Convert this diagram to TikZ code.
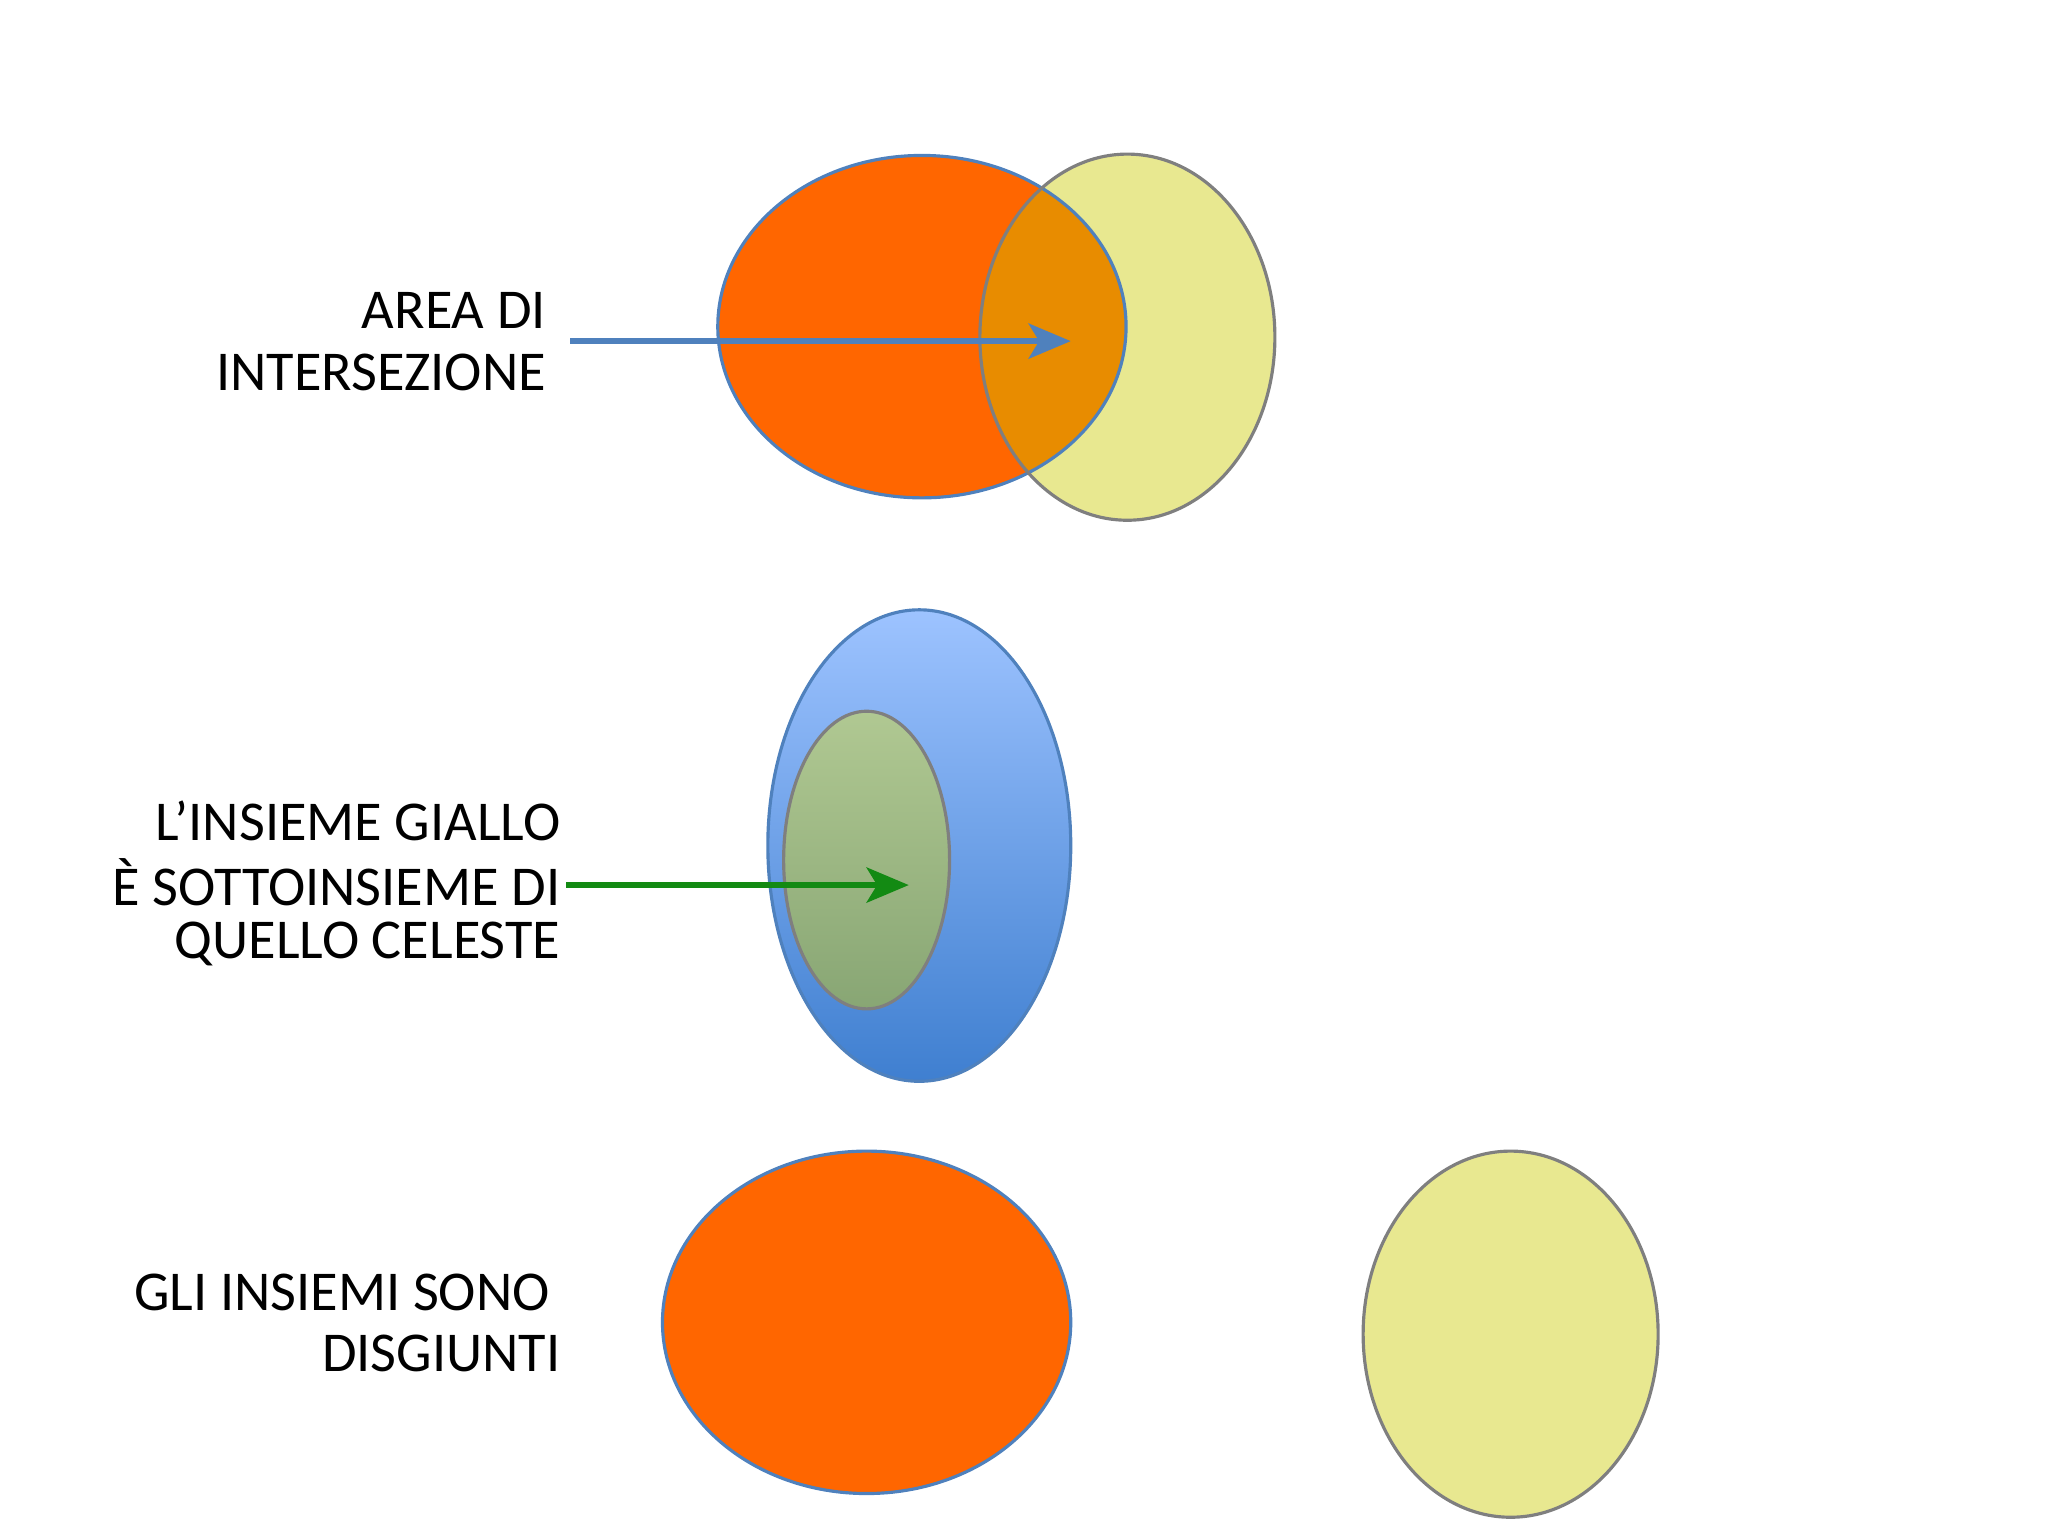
\documentclass[tikz,border=0pt]{standalone}
\usepackage{fontspec}
\setmainfont{Carlito}
\usetikzlibrary{arrows.meta}
\definecolor{orng}{HTML}{FF6600}
\definecolor{ylw}{HTML}{E8E890}
\definecolor{inter}{HTML}{E88C00}
\definecolor{bord}{HTML}{4F81BD}
\definecolor{gbord}{HTML}{7F7F7F}
\definecolor{arrb}{HTML}{4F81BD}
\definecolor{arrg}{HTML}{138A13}
\definecolor{bluetop}{HTML}{9DC3FF}
\definecolor{bluebot}{HTML}{3F7FD0}
\definecolor{grntop}{HTML}{B0C892}
\definecolor{grnbot}{HTML}{88A674}
\begin{document}
\begin{tikzpicture}[x=0.01317cm,y=-0.01317cm,
  lbl/.style={anchor=east,inner sep=0pt,font=\fontsize{16}{18}\selectfont},
  setline/.style={line width=0.9pt}]
\useasboundingbox (0,0) rectangle (1555,1166);
% top
\fill[orng] (700,248) ellipse [x radius=155,y radius=130];
\fill[ylw] (856,256) ellipse [x radius=112,y radius=139];
\begin{scope}
\clip (700,248) ellipse [x radius=155,y radius=130];
\fill[inter] (856,256) ellipse [x radius=112,y radius=139];
\end{scope}
\draw[setline,bord] (700,248) ellipse [x radius=155,y radius=130];
\draw[setline,gbord] (856,256) ellipse [x radius=112,y radius=139];
\node[lbl] (t1) at (415,236) {AREA DI};
\node[lbl] (t2) at (415,283) {INTERSEZIONE};
\coordinate (a1s) at (433,259);
\coordinate (a1e) at (813,259);
\draw[arrb,line width=1.6pt,-{Stealth[length=12pt,width=10pt,inset=3pt]}] (a1s) -- (a1e);
% middle
\shade[top color=bluetop,bottom color=bluebot] (698,642) ellipse [x radius=115,y radius=179];
\draw[setline,bord] (698,642) ellipse [x radius=115,y radius=179];
\shade[top color=grntop,bottom color=grnbot] (658,653) ellipse [x radius=63,y radius=113];
\draw[setline,gbord] (658,653) ellipse [x radius=63,y radius=113];
\node[lbl] (m1) at (426,623) {L’INSIEME GIALLO};
\node[lbl] (m2) at (426,670) {È SOTTOINSIEME DI};
\node[lbl] (m3) at (426,717) {QUELLO CELESTE};
\coordinate (a2s) at (430,672);
\coordinate (a2e) at (690,672);
\draw[arrg,line width=1.6pt,-{Stealth[length=12pt,width=10pt,inset=3pt]}] (a2s) -- (a2e);
% bottom
\fill[orng] (658,1004) ellipse [x radius=155,y radius=130];
\draw[setline,bord] (658,1004) ellipse [x radius=155,y radius=130];
\fill[ylw] (1147,1013) ellipse [x radius=112,y radius=139];
\draw[setline,gbord] (1147,1013) ellipse [x radius=112,y radius=139];
\node[lbl] (b1) at (418,981) {GLI INSIEMI SONO};
\node[lbl] (b2) at (426,1028) {DISGIUNTI};
\end{tikzpicture}
\end{document}
